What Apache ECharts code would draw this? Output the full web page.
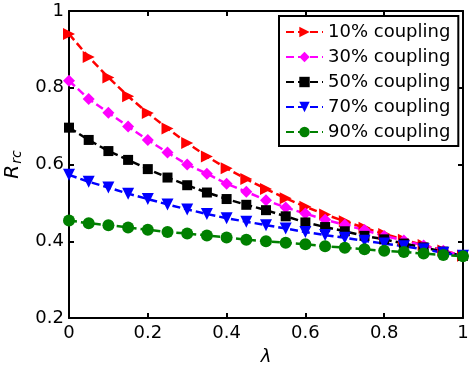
<!DOCTYPE html>
<html>
<head>
<meta charset="utf-8">
<script src="https://cdn.jsdelivr.net/npm/echarts@6/dist/echarts.min.js"></script>
<style>
  html, body { margin: 0; padding: 0; background: #fff; }
  #main { width: 474px; height: 366px; }
</style>
</head>
<body>
<div id="main"></div>
<script>
const lambda = [0, 0.05, 0.1, 0.15, 0.2, 0.25, 0.3, 0.35, 0.4, 0.45, 0.5,
                0.55, 0.6, 0.65, 0.7, 0.75, 0.8, 0.85, 0.9, 0.95, 1];

const coupling10 = [0.94, 0.88, 0.827, 0.778, 0.734, 0.694, 0.656, 0.621, 0.59, 0.562, 0.536,
                    0.512, 0.49, 0.47, 0.452, 0.435, 0.419, 0.404, 0.39, 0.376, 0.362];
const coupling30 = [0.818, 0.771, 0.735, 0.699, 0.664, 0.631, 0.6, 0.576, 0.55, 0.529, 0.507,
                    0.488, 0.472, 0.456, 0.443, 0.429, 0.414, 0.402, 0.389, 0.375, 0.362];
const coupling50 = [0.696, 0.664, 0.635, 0.612, 0.588, 0.566, 0.546, 0.527, 0.51, 0.495, 0.481,
                    0.465, 0.449, 0.437, 0.426, 0.414, 0.405, 0.394, 0.384, 0.373, 0.362];
const coupling70 = [0.573, 0.555, 0.54, 0.524, 0.51, 0.496, 0.483, 0.471, 0.46, 0.451, 0.442,
                    0.433, 0.424, 0.416, 0.409, 0.401, 0.394, 0.387, 0.379, 0.37, 0.362];
const coupling90 = [0.454, 0.447, 0.442, 0.436, 0.43, 0.424, 0.42, 0.415, 0.41, 0.404, 0.4,
                    0.396, 0.392, 0.387, 0.383, 0.379, 0.375, 0.372, 0.368, 0.364, 0.361];

const seriesNames = ['10% coupling', '30% coupling', '50% coupling', '70% coupling', '90% coupling'];

const FONT = 'DejaVu Sans';

const chart = echarts.init(document.getElementById('main'));

function pairs(ys) {
    return lambda.map((x, i) => [x, ys[i]]);
}

function makeSeries(name, ys, color, symbol, rotate, size) {
    return {
        name: name,
        type: 'line',
        data: pairs(ys),
        symbol: symbol,
        symbolRotate: rotate,
        symbolSize: size,
        showAllSymbol: true,
        itemStyle: { color: color },
        lineStyle: { color: color, width: 2.5, type: [8, 4] },
        emphasis: { disabled: true },
        animation: false
    };
}

const axisCommon = {
    type: 'value',
    axisLine: { show: true, onZero: false, lineStyle: { color: '#000', width: 2 } },
    axisTick: { show: true, inside: true, length: 5, lineStyle: { color: '#000', width: 2 } },
    splitLine: { show: false }
};

chart.setOption({
    backgroundColor: '#fff',
    animation: false,
    grid: { left: 69, right: 11, top: 11, bottom: 48, containLabel: false, outerBoundsMode: 'none' },
    legend: {
        orient: 'vertical',
        left: 279,
        top: 16,
        width: 179,
        backgroundColor: '#fff',
        borderColor: '#000',
        borderWidth: 2,
        borderRadius: 0,
        padding: [6, 8, 4, 6],
        itemWidth: 37,
        itemHeight: 13,
        itemGap: 5,
        textStyle: { fontFamily: FONT, fontSize: 18, color: '#000', lineHeight: 20 },
        data: seriesNames
    },
    xAxis: [
        Object.assign({}, axisCommon, {
            min: 0, max: 1, interval: 0.2,
            position: 'bottom',
            axisLabel: { fontFamily: FONT, fontSize: 18, color: '#000', margin: 6 },
            name: 'λ',
            nameLocation: 'middle',
            nameGap: 30,
            nameTextStyle: { fontFamily: FONT, fontSize: 18, fontStyle: 'italic', color: '#000' }
        }),
        Object.assign({}, axisCommon, {
            min: 0, max: 1, interval: 0.2,
            position: 'top',
            axisLabel: { show: false }
        })
    ],
    yAxis: [
        Object.assign({}, axisCommon, {
            min: 0.2, max: 1, interval: 0.2,
            position: 'left',
            axisLabel: { fontFamily: FONT, fontSize: 18, color: '#000', margin: 5 },
            name: '{a|R}{b|rc}',
            nameLocation: 'middle',
            nameGap: 25,
            nameRotate: 90,
            nameTextStyle: {
                rich: {
                    a: { fontFamily: FONT, fontSize: 20, fontStyle: 'italic', color: '#000', verticalAlign: 'top', lineHeight: 22 },
                    b: { fontFamily: FONT, fontSize: 14, fontStyle: 'italic', color: '#000', verticalAlign: 'bottom', lineHeight: 14, padding: [12, 0, 0, 1] }
                }
            }
        }),
        Object.assign({}, axisCommon, {
            min: 0.2, max: 1, interval: 0.2,
            position: 'right',
            axisLabel: { show: false }
        })
    ],
    series: [
        makeSeries(seriesNames[0], coupling10, '#ff0000', 'triangle', -90, 12),
        makeSeries(seriesNames[1], coupling30, '#ff00ff', 'diamond', 0, 12),
        makeSeries(seriesNames[2], coupling50, '#000000', 'rect', 0, 10),
        makeSeries(seriesNames[3], coupling70, '#0000ff', 'triangle', 180, 12),
        makeSeries(seriesNames[4], coupling90, '#008000', 'circle', 0, 12)
    ]
});
</script>
</body>
</html>
